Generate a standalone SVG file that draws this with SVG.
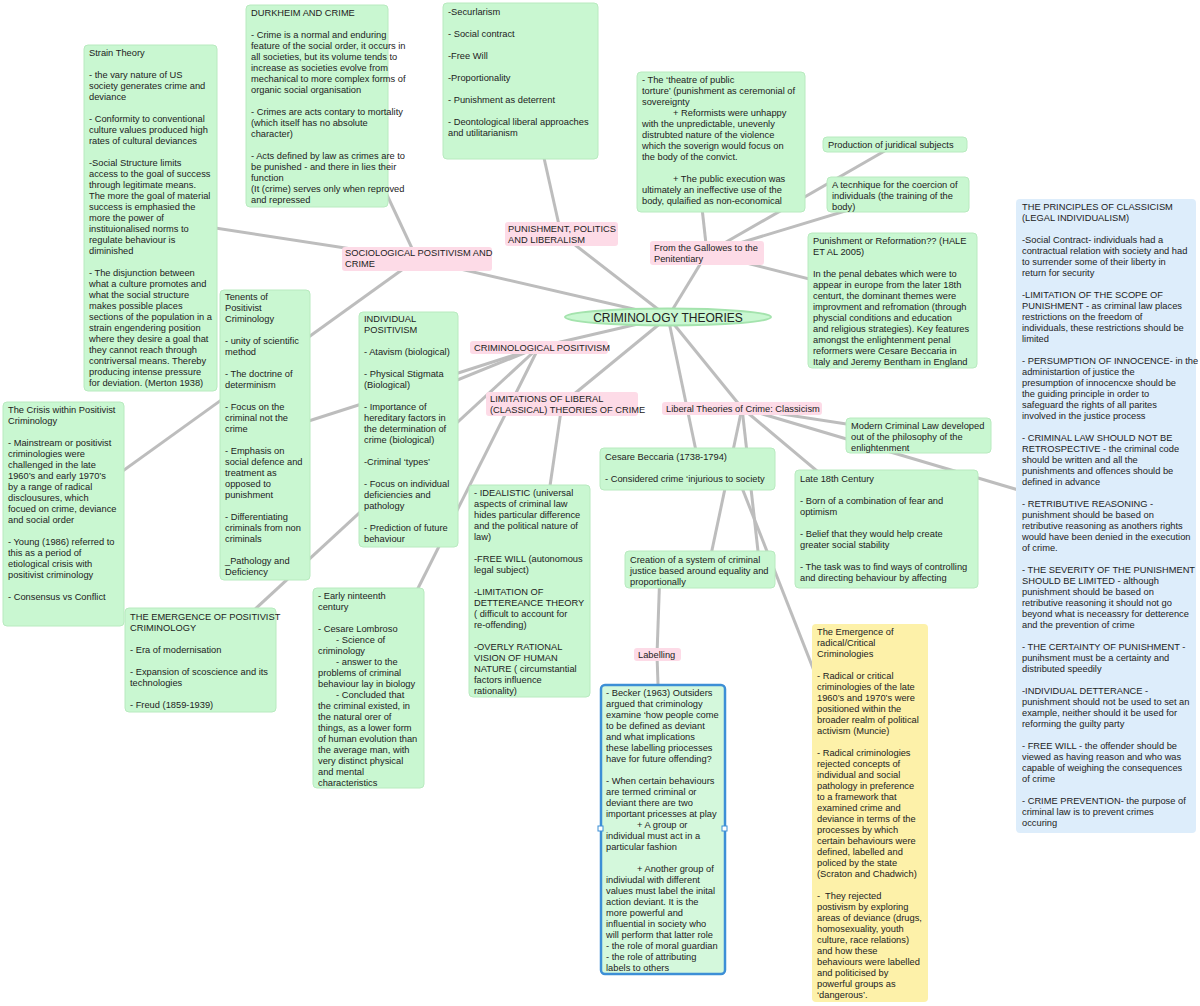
<svg xmlns="http://www.w3.org/2000/svg" width="1200" height="1006" viewBox="0 0 1200 1006">
<style>
text{font-family:"Liberation Sans",Arial,sans-serif;font-size:9.3px;fill:#222;white-space:pre}
.g{fill:#c9f7d1;stroke:#b8eabf;stroke-width:1}
.p{fill:#fddbe7}
.y{fill:#fdf1a9}
.b{fill:#ddedfb}
.c line{stroke:#bdbdbd;stroke-width:3}
</style>
<rect width="1200" height="1006" fill="#fff"/>
<g class="c" id="connectors">
<line x1="668" y1="317" x2="417" y2="259"/>
<line x1="417" y1="259" x2="150" y2="218"/>
<line x1="417" y1="259" x2="380" y2="180"/>
<line x1="417" y1="259" x2="63" y2="514"/>
<line x1="668" y1="317" x2="539" y2="347"/>
<line x1="539" y1="347" x2="265" y2="435"/>
<line x1="539" y1="347" x2="408" y2="400"/>
<line x1="539" y1="347" x2="200" y2="660"/>
<line x1="539" y1="347" x2="368" y2="688"/>
<line x1="668" y1="317" x2="561" y2="234"/>
<line x1="561" y1="234" x2="540" y2="140"/>
<line x1="668" y1="317" x2="707" y2="253"/>
<line x1="707" y1="253" x2="700" y2="190"/>
<line x1="707" y1="253" x2="895" y2="145"/>
<line x1="707" y1="253" x2="898" y2="195"/>
<line x1="707" y1="253" x2="892" y2="300"/>
<line x1="668" y1="317" x2="562" y2="404"/>
<line x1="562" y1="404" x2="545" y2="520"/>
<line x1="668" y1="317" x2="742" y2="408"/>
<line x1="668" y1="317" x2="700" y2="470"/>
<line x1="742" y1="408" x2="918" y2="435"/>
<line x1="742" y1="408" x2="886" y2="529"/>
<line x1="742" y1="408" x2="1106" y2="516"/>
<line x1="742" y1="408" x2="708" y2="569"/>
<line x1="742" y1="408" x2="760" y2="569"/>
<line x1="735" y1="470" x2="870" y2="813"/>
<line x1="660" y1="569" x2="657" y2="655"/>
<line x1="657" y1="655" x2="663" y2="829"/>
</g>
<g id="center"><ellipse cx="668" cy="317" rx="103" ry="8.5" fill="#c9f7d1" stroke="#a4e3ad" stroke-width="2"/><text x="668" y="321.5" text-anchor="middle" style="font-size:12px">CRIMINOLOGY THEORIES</text></g>
<g id="soc"><rect class="p" x="342" y="247" width="150" height="24" rx="3"/><text x="345" y="256">SOCIOLOGICAL POSITIVISM AND<tspan x="345" dy="11">CRIME</tspan></text></g>
<g id="pun"><rect class="p" x="505" y="222" width="113" height="24" rx="3"/><text x="508" y="232">PUNISHMENT, POLITICS<tspan x="508" dy="11">AND LIBERALISM</tspan></text></g>
<g id="gal"><rect class="p" x="650" y="241" width="114" height="24" rx="3"/><text x="654" y="251">From the Gallowes to the<tspan x="654" dy="11">Penitentiary</tspan></text></g>
<g id="crimpos"><rect class="p" x="470" y="341" width="138" height="13" rx="3"/><text x="474" y="351">CRIMINOLOGICAL POSITIVISM</text></g>
<g id="lim"><rect class="p" x="486" y="392" width="152" height="24" rx="3"/><text x="490" y="402">LIMITATIONS OF LIBERAL<tspan x="490" dy="11">(CLASSICAL) THEORIES OF CRIME</tspan></text></g>
<g id="lib"><rect class="p" x="662" y="402" width="160" height="13" rx="3"/><text x="666" y="412">Liberal Theories of Crime: Classicism</text></g>
<g id="lab"><rect class="p" x="634" y="648" width="47" height="13" rx="3"/><text x="638" y="658">Labelling</text></g>

<g id="strain"><rect class="g" x="84" y="45" width="133" height="346" rx="4"/><text x="89" y="56">Strain Theory<tspan x="89" dy="22">- the vary nature of US</tspan><tspan x="89" dy="11">society generates crime and</tspan><tspan x="89" dy="11">deviance</tspan><tspan x="89" dy="22">- Conformity to conventional</tspan><tspan x="89" dy="11">culture values produced high</tspan><tspan x="89" dy="11">rates of cultural deviances</tspan><tspan x="89" dy="22">-Social Structure limits</tspan><tspan x="89" dy="11">access to the goal of success</tspan><tspan x="89" dy="11">through legitimate means.</tspan><tspan x="89" dy="11">The more the goal of material</tspan><tspan x="89" dy="11">success is emphasied the</tspan><tspan x="89" dy="11">more the power of</tspan><tspan x="89" dy="11">instituionalised norms to</tspan><tspan x="89" dy="11">regulate behaviour is</tspan><tspan x="89" dy="11">diminished</tspan><tspan x="89" dy="22">- The disjunction between</tspan><tspan x="89" dy="11">what a culture promotes and</tspan><tspan x="89" dy="11">what the social structure</tspan><tspan x="89" dy="11">makes possible places</tspan><tspan x="89" dy="11">sections of the population in a</tspan><tspan x="89" dy="11">strain engendering position</tspan><tspan x="89" dy="11">where they desire a goal that</tspan><tspan x="89" dy="11">they cannot reach through</tspan><tspan x="89" dy="11">contriversal means. Thereby</tspan><tspan x="89" dy="11">producing intense pressure</tspan><tspan x="89" dy="11">for deviation. (Merton 1938)</tspan></text></g>

<g id="durk"><rect class="g" x="246" y="5" width="142" height="202" rx="4"/><text x="251" y="16">DURKHEIM AND CRIME<tspan x="251" dy="22">- Crime is a normal and enduring</tspan><tspan x="251" dy="11">feature of the social order, it occurs in</tspan><tspan x="251" dy="11">all societies, but its volume tends to</tspan><tspan x="251" dy="11">increase as societies evolve from</tspan><tspan x="251" dy="11">mechanical to more complex forms of</tspan><tspan x="251" dy="11">organic social organisation</tspan><tspan x="251" dy="22">- Crimes are acts contary to mortality</tspan><tspan x="251" dy="11">(which itself has no absolute</tspan><tspan x="251" dy="11">character)</tspan><tspan x="251" dy="22">- Acts defined by law as crimes are to</tspan><tspan x="251" dy="11">be punished - and there in lies their</tspan><tspan x="251" dy="11">function</tspan><tspan x="251" dy="11">(It (crime) serves only when reproved</tspan><tspan x="251" dy="11">and repressed</tspan></text></g>

<g id="secular"><rect class="g" x="443" y="3" width="155" height="156" rx="4"/><text x="448" y="15">-Securlarism<tspan x="448" dy="22">- Social contract</tspan><tspan x="448" dy="22">-Free Will</tspan><tspan x="448" dy="22">-Proportionality</tspan><tspan x="448" dy="22">- Punishment as deterrent</tspan><tspan x="448" dy="22">- Deontological liberal approaches</tspan><tspan x="448" dy="11">and utilitarianism</tspan></text></g>

<g id="theatre"><rect class="g" x="637" y="72" width="168" height="140" rx="4"/><text x="642" y="83">- The ‘theatre of public<tspan x="642" dy="11">torture’ (punishment as ceremonial of</tspan><tspan x="642" dy="11">sovereignty</tspan><tspan x="642" dy="11">            + Reformists were unhappy</tspan><tspan x="642" dy="11">with the unpredictable, unevenly</tspan><tspan x="642" dy="11">distrubted nature of the violence</tspan><tspan x="642" dy="11">which the soverign would focus on</tspan><tspan x="642" dy="11">the body of the convict.</tspan><tspan x="642" dy="22">            + The public execution was</tspan><tspan x="642" dy="11">ultimately an ineffective use of the</tspan><tspan x="642" dy="11">body, qulaified as non-economical</tspan></text></g>

<g id="prod"><rect class="g" x="823" y="137" width="144" height="15" rx="4"/><text x="828" y="148">Production of juridical subjects</text></g>
<g id="tech"><rect class="g" x="827" y="177" width="142" height="35" rx="4"/><text x="832" y="188">A tecnhique for the coercion of<tspan x="832" dy="11">individuals (the training of the</tspan><tspan x="832" dy="11">body)</tspan></text></g>

<g id="reform"><rect class="g" x="808" y="233" width="169" height="135" rx="4"/><text x="813" y="244">Punishment or Reformation?? (HALE<tspan x="813" dy="11">ET AL 2005)</tspan><tspan x="813" dy="22">In the penal debates which were to</tspan><tspan x="813" dy="11">appear in europe from the later 18th</tspan><tspan x="813" dy="11">centurt, the dominant themes were</tspan><tspan x="813" dy="11">improvment and refromation (through</tspan><tspan x="813" dy="11">physcial conditions and education</tspan><tspan x="813" dy="11">and religious strategies). Key features</tspan><tspan x="813" dy="11">amongst the enlightenment penal</tspan><tspan x="813" dy="11">reformers were Cesare Beccaria in</tspan><tspan x="813" dy="11">Italy and Jeremy Bentham in England</tspan></text></g>

<g id="tenents"><rect class="g" x="220" y="290" width="90" height="290" rx="4"/><text x="225" y="300">Tenents of<tspan x="225" dy="11">Positivist</tspan><tspan x="225" dy="11">Criminology</tspan><tspan x="225" dy="22">- unity of scientific</tspan><tspan x="225" dy="11">method</tspan><tspan x="225" dy="22">- The doctrine of</tspan><tspan x="225" dy="11">determinism</tspan><tspan x="225" dy="22">- Focus on the</tspan><tspan x="225" dy="11">criminal not the</tspan><tspan x="225" dy="11">crime</tspan><tspan x="225" dy="22">- Emphasis on</tspan><tspan x="225" dy="11">social defence and</tspan><tspan x="225" dy="11">treatment as</tspan><tspan x="225" dy="11">opposed to</tspan><tspan x="225" dy="11">punishment</tspan><tspan x="225" dy="22">- Differentiating</tspan><tspan x="225" dy="11">criminals from non</tspan><tspan x="225" dy="11">criminals</tspan><tspan x="225" dy="22">_Pathology and</tspan><tspan x="225" dy="11">Deficiency</tspan></text></g>

<g id="crisis"><rect class="g" x="3" y="402" width="121" height="224" rx="4"/><text x="8" y="413">The Crisis within Positivist<tspan x="8" dy="11">Criminology</tspan><tspan x="8" dy="22">- Mainstream or positivist</tspan><tspan x="8" dy="11">criminologies were</tspan><tspan x="8" dy="11">challenged in the late</tspan><tspan x="8" dy="11">1960’s and early 1970’s</tspan><tspan x="8" dy="11">by a range of radical</tspan><tspan x="8" dy="11">disclousures, which</tspan><tspan x="8" dy="11">focued on crime, deviance</tspan><tspan x="8" dy="11">and social order</tspan><tspan x="8" dy="22">- Young (1986) referred to</tspan><tspan x="8" dy="11">this as a period of</tspan><tspan x="8" dy="11">etiological crisis with</tspan><tspan x="8" dy="11">positivist criminology</tspan><tspan x="8" dy="22">- Consensus vs Conflict</tspan></text></g>

<g id="indiv"><rect class="g" x="359" y="312" width="99" height="235" rx="4"/><text x="364" y="322">INDIVIDUAL<tspan x="364" dy="11">POSITIVISM</tspan><tspan x="364" dy="22">- Atavism (biological)</tspan><tspan x="364" dy="22">- Physical Stigmata</tspan><tspan x="364" dy="11">(Biological)</tspan><tspan x="364" dy="22">- Importance of</tspan><tspan x="364" dy="11">hereditary factors in</tspan><tspan x="364" dy="11">the determination of</tspan><tspan x="364" dy="11">crime (biological)</tspan><tspan x="364" dy="22">-Criminal ‘types’</tspan><tspan x="364" dy="22">- Focus on individual</tspan><tspan x="364" dy="11">deficiencies and</tspan><tspan x="364" dy="11">pathology</tspan><tspan x="364" dy="22">- Prediction of future</tspan><tspan x="364" dy="11">behaviour</tspan></text></g>

<g id="emergpos"><rect class="g" x="125" y="608" width="151" height="104" rx="4"/><text x="130" y="620">THE EMERGENCE OF POSITIVIST<tspan x="130" dy="11">CRIMINOLOGY</tspan><tspan x="130" dy="22">- Era of modernisation</tspan><tspan x="130" dy="22">- Expansion of scoscience and its</tspan><tspan x="130" dy="11">technologies</tspan><tspan x="130" dy="22">- Freud (1859-1939)</tspan></text></g>

<g id="early"><rect class="g" x="313" y="588" width="111" height="200" rx="4"/><text x="318" y="599">- Early ninteenth<tspan x="318" dy="11">century</tspan><tspan x="318" dy="22">- Cesare Lombroso</tspan><tspan x="318" dy="11">       - Science of</tspan><tspan x="318" dy="11">criminology</tspan><tspan x="318" dy="11">       - answer to the</tspan><tspan x="318" dy="11">problems of criminal</tspan><tspan x="318" dy="11">behaviour lay in biology</tspan><tspan x="318" dy="11">       - Concluded that</tspan><tspan x="318" dy="11">the criminal existed, in</tspan><tspan x="318" dy="11">the natural orer of</tspan><tspan x="318" dy="11">things, as a lower form</tspan><tspan x="318" dy="11">of human evolution than</tspan><tspan x="318" dy="11">the average man, with</tspan><tspan x="318" dy="11">very distinct physical</tspan><tspan x="318" dy="11">and mental</tspan><tspan x="318" dy="11">characteristics</tspan></text></g>

<g id="ideal"><rect class="g" x="469" y="485" width="121" height="212" rx="4"/><text x="474" y="496">- IDEALISTIC (universal<tspan x="474" dy="11">aspects of criminal law</tspan><tspan x="474" dy="11">hides particular difference</tspan><tspan x="474" dy="11">and the political nature of</tspan><tspan x="474" dy="11">law)</tspan><tspan x="474" dy="22">-FREE WILL (autonomous</tspan><tspan x="474" dy="11">legal subject)</tspan><tspan x="474" dy="22">-LIMITATION OF</tspan><tspan x="474" dy="11">DETTEREANCE THEORY</tspan><tspan x="474" dy="11">( difficult to account for</tspan><tspan x="474" dy="11">re-offending)</tspan><tspan x="474" dy="22">-OVERLY RATIONAL</tspan><tspan x="474" dy="11">VISION OF HUMAN</tspan><tspan x="474" dy="11">NATURE ( circumstantial</tspan><tspan x="474" dy="11">factors influence</tspan><tspan x="474" dy="11">rationality)</tspan></text></g>

<g id="cesare"><rect class="g" x="600" y="448" width="175" height="42" rx="4"/><text x="605" y="460">Cesare Beccaria (1738-1794)<tspan x="605" dy="22">- Considered crime ‘injurious to society</tspan></text></g>
<g id="modern"><rect class="g" x="846" y="418" width="145" height="35" rx="4"/><text x="851" y="429">Modern Criminal Law developed<tspan x="851" dy="11">out of the philosophy of the</tspan><tspan x="851" dy="11">enlightenment</tspan></text></g>
<g id="late"><rect class="g" x="795" y="470" width="183" height="118" rx="4"/><text x="800" y="482">Late 18th Century<tspan x="800" dy="22">- Born of a combination of fear and</tspan><tspan x="800" dy="11">optimism</tspan><tspan x="800" dy="22">- Belief that they would help create</tspan><tspan x="800" dy="11">greater social stability</tspan><tspan x="800" dy="22">- The task was to find ways of controlling</tspan><tspan x="800" dy="11">and directing behaviour by affecting</tspan></text></g>
<g id="creation"><rect class="g" x="625" y="551" width="150" height="37" rx="4"/><text x="630" y="563">Creation of a system of criminal<tspan x="630" dy="11">justice based around equality and</tspan><tspan x="630" dy="11">proportionally</tspan></text></g>

<g id="becker"><rect x="601" y="685" width="124" height="289" rx="4" fill="#d4f8dc" stroke="#3d8fd6" stroke-width="2.5"/><rect x="598" y="826" width="5" height="5" fill="#fff" stroke="#3d8fd6" stroke-width="1"/><rect x="722" y="826" width="5" height="5" fill="#fff" stroke="#3d8fd6" stroke-width="1"/><text x="606" y="696">- Becker (1963) Outsiders<tspan x="606" dy="11">argued that criminology</tspan><tspan x="606" dy="11">examine ‘how people come</tspan><tspan x="606" dy="11">to be defined as deviant</tspan><tspan x="606" dy="11">and what implications</tspan><tspan x="606" dy="11">these labelling priocesses</tspan><tspan x="606" dy="11">have for future offending?</tspan><tspan x="606" dy="22">- When certain behaviours</tspan><tspan x="606" dy="11">are termed criminal or</tspan><tspan x="606" dy="11">deviant there are two</tspan><tspan x="606" dy="11">important pricesses at play</tspan><tspan x="606" dy="11">            + A group or</tspan><tspan x="606" dy="11">individual must act in a</tspan><tspan x="606" dy="11">particular fashion</tspan><tspan x="606" dy="22">            + Another group of</tspan><tspan x="606" dy="11">indiviudal with different</tspan><tspan x="606" dy="11">values must label the inital</tspan><tspan x="606" dy="11">action deviant. It is the</tspan><tspan x="606" dy="11">more powerful and</tspan><tspan x="606" dy="11">influential in society who</tspan><tspan x="606" dy="11">will perform that latter role</tspan><tspan x="606" dy="11">- the role of moral guardian</tspan><tspan x="606" dy="11">- the role of attributing</tspan><tspan x="606" dy="11">labels to others</tspan></text></g>

<g id="radical"><rect class="y" x="812" y="624" width="116" height="378" rx="4"/><text x="817" y="635">The Emergence of<tspan x="817" dy="11">radical/Critical</tspan><tspan x="817" dy="11">Criminologies</tspan><tspan x="817" dy="22">- Radical or critical</tspan><tspan x="817" dy="11">criminologies of the late</tspan><tspan x="817" dy="11">1960’s and 1970’s were</tspan><tspan x="817" dy="11">positioned within the</tspan><tspan x="817" dy="11">broader realm of political</tspan><tspan x="817" dy="11">activism (Muncie)</tspan><tspan x="817" dy="22">- Radical criminologies</tspan><tspan x="817" dy="11">rejected concepts of</tspan><tspan x="817" dy="11">individual and social</tspan><tspan x="817" dy="11">pathology in preference</tspan><tspan x="817" dy="11">to a framework that</tspan><tspan x="817" dy="11">examined crime and</tspan><tspan x="817" dy="11">deviance in terms of the</tspan><tspan x="817" dy="11">processes by which</tspan><tspan x="817" dy="11">certain behaviours were</tspan><tspan x="817" dy="11">defined, labelled and</tspan><tspan x="817" dy="11">policed by the state</tspan><tspan x="817" dy="11">(Scraton and Chadwich)</tspan><tspan x="817" dy="22">-  They rejected</tspan><tspan x="817" dy="11">postivism by exploring</tspan><tspan x="817" dy="11">areas of deviance (drugs,</tspan><tspan x="817" dy="11">homosexuality, youth</tspan><tspan x="817" dy="11">culture, race relations)</tspan><tspan x="817" dy="11">and how these</tspan><tspan x="817" dy="11">behaviours were labelled</tspan><tspan x="817" dy="11">and politicised by</tspan><tspan x="817" dy="11">powerful groups as</tspan><tspan x="817" dy="11">‘dangerous’.</tspan></text></g>

<g id="principles"><rect class="b" x="1016" y="199" width="180" height="634" rx="4"/><text x="1022" y="210">THE PRINCIPLES OF CLASSICISM<tspan x="1022" dy="11">(LEGAL INDIVIDUALISM)</tspan><tspan x="1022" dy="22">-Social Contract- individuals had a</tspan><tspan x="1022" dy="11">contractual relation with society and had</tspan><tspan x="1022" dy="11">to surrender some of their liberty in</tspan><tspan x="1022" dy="11">return for security</tspan><tspan x="1022" dy="22">-LIMITATION OF THE SCOPE OF</tspan><tspan x="1022" dy="11">PUNISHMENT - as criminal law places</tspan><tspan x="1022" dy="11">restrictions on the freedom of</tspan><tspan x="1022" dy="11">individuals, these restrictions should be</tspan><tspan x="1022" dy="11">limited</tspan><tspan x="1022" dy="22">- PERSUMPTION OF INNOCENCE- in the</tspan><tspan x="1022" dy="11">administartion of justice the</tspan><tspan x="1022" dy="11">presumption of innocencxe should be</tspan><tspan x="1022" dy="11">the guiding principle in order to</tspan><tspan x="1022" dy="11">safeguard the rights of all parites</tspan><tspan x="1022" dy="11">involved in the justice process</tspan><tspan x="1022" dy="22">- CRIMINAL LAW SHOULD NOT BE</tspan><tspan x="1022" dy="11">RETROSPECTIVE - the criminal code</tspan><tspan x="1022" dy="11">should be written and all the</tspan><tspan x="1022" dy="11">punishments and offences should be</tspan><tspan x="1022" dy="11">defined in advance</tspan><tspan x="1022" dy="22">- RETRIBUTIVE REASONING -</tspan><tspan x="1022" dy="11">punishment should be based on</tspan><tspan x="1022" dy="11">retributive reasoning as anothers rights</tspan><tspan x="1022" dy="11">would have been denied in the execution</tspan><tspan x="1022" dy="11">of crime.</tspan><tspan x="1022" dy="22">- THE SEVERITY OF THE PUNISHMENT</tspan><tspan x="1022" dy="11">SHOULD BE LIMITED - although</tspan><tspan x="1022" dy="11">punishment should be based on</tspan><tspan x="1022" dy="11">retributive reasoning it should not go</tspan><tspan x="1022" dy="11">beyond what is neceassry for detterence</tspan><tspan x="1022" dy="11">and the prevention of crime</tspan><tspan x="1022" dy="22">- THE CERTAINTY OF PUNISHMENT -</tspan><tspan x="1022" dy="11">punihsment must be a certainty and</tspan><tspan x="1022" dy="11">distributed speedily</tspan><tspan x="1022" dy="22">-INDIVIDUAL DETTERANCE -</tspan><tspan x="1022" dy="11">punishment should not be used to set an</tspan><tspan x="1022" dy="11">example, neither should it be used for</tspan><tspan x="1022" dy="11">reforming the guilty party</tspan><tspan x="1022" dy="22">- FREE WILL - the offender should be</tspan><tspan x="1022" dy="11">viewed as having reason and who was</tspan><tspan x="1022" dy="11">capable of weighing the consequences</tspan><tspan x="1022" dy="11">of crime</tspan><tspan x="1022" dy="22">- CRIME PREVENTION- the purpose of</tspan><tspan x="1022" dy="11">criminal law is to prevent crimes</tspan><tspan x="1022" dy="11">occuring</tspan></text></g>
</svg>
